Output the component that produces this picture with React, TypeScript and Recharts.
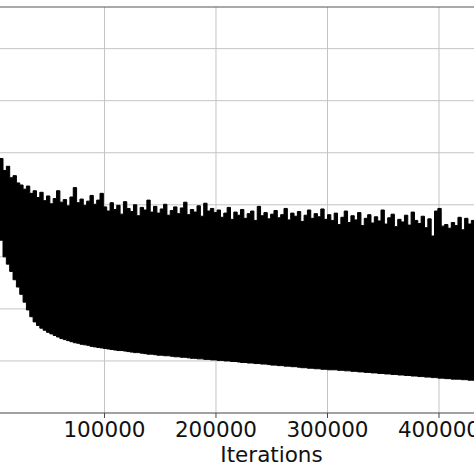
import { AreaChart, Area, XAxis, YAxis, CartesianGrid, ReferenceLine } from "recharts";

// sampling of the training curve, one sample every STEP iterations from FIRST
const FIRST = 6000;
const STEP = 3000;

// lower envelope of the noisy loss
const lower = [
  3.32, 3.0, 2.86, 2.72, 2.56, 2.42, 2.28, 2.13, 1.98, 1.85, 1.75, 1.68, 1.63, 1.59, 1.55,
  1.52, 1.49, 1.46, 1.43, 1.41, 1.39, 1.37, 1.35, 1.34, 1.32, 1.31, 1.3, 1.28, 1.27, 1.26,
  1.25, 1.24, 1.23, 1.22, 1.21, 1.2, 1.2, 1.19, 1.18, 1.17, 1.16, 1.16, 1.15, 1.14, 1.13,
  1.13, 1.12, 1.11,
  1.11, 1.1, 1.1, 1.09, 1.08, 1.08, 1.07, 1.07, 1.06, 1.05, 1.05, 1.04, 1.04, 1.03, 1.03,
  1.02,
  1.02, 1.01, 1.01, 1.0, 1.0, 0.99, 0.99, 0.98, 0.97, 0.97, 0.96, 0.96, 0.95, 0.95, 0.94,
  0.94, 0.93, 0.92, 0.92, 0.91, 0.91, 0.9, 0.9, 0.89, 0.89, 0.88, 0.87, 0.87, 0.86, 0.86,
  0.85, 0.85, 0.84, 0.84, 0.83, 0.83, 0.83,
  0.82, 0.82, 0.81, 0.81, 0.8, 0.8, 0.79, 0.79, 0.78, 0.78, 0.77, 0.77, 0.76, 0.76, 0.75,
  0.75, 0.74, 0.74, 0.73, 0.73, 0.72, 0.72, 0.71, 0.71, 0.7, 0.7, 0.69, 0.69, 0.68, 0.68,
  0.67, 0.67, 0.66, 0.66, 0.65, 0.65, 0.65, 0.64, 0.64, 0.63, 0.63, 0.63,
];

// upper envelope (spiky tips)
const upper = [
  4.89, 4.66, 4.74, 4.52, 4.56, 4.42, 4.38, 4.3, 4.36, 4.22, 4.27, 4.14, 4.24,
  4.08, 4.17, 4.02, 4.12, 4.27, 4.05, 4.1, 3.98, 4.15, 4.33, 4.04, 4.11, 3.99, 4.07, 4.18,
  4.01, 4.09,
  4.22, 3.96, 3.88, 4.04, 3.91, 3.99, 3.82, 4.06, 3.93, 3.87, 4.0, 3.79, 3.95, 3.9, 4.09,
  3.86, 3.97, 3.84, 3.92, 4.01, 3.8, 3.89, 3.96, 3.83, 3.94, 4.05, 3.81, 3.91, 3.86, 3.98,
  3.78, 4.03, 3.88, 3.93, 3.85,
  3.9, 3.76, 3.84, 3.95, 3.72, 3.86, 3.8, 3.91, 3.74, 3.83, 3.88, 3.7, 3.97, 3.79, 3.85,
  3.73, 3.82, 3.89, 3.75, 3.81, 3.93, 3.71, 3.84, 3.78, 3.87, 3.68, 3.8, 3.9, 3.74, 3.83,
  3.77, 3.92, 3.72, 3.81,
  3.7, 3.84, 3.62, 3.76, 3.88, 3.66, 3.79, 3.71, 3.85, 3.6, 3.74, 3.81, 3.65, 3.77, 3.69,
  3.9, 3.63, 3.75, 3.82, 3.58, 3.72, 3.67, 3.8, 3.61, 3.86, 3.7, 3.64, 3.78, 3.56, 3.73,
  3.4, 3.88, 3.93, 3.59, 3.62, 3.55, 3.66, 3.6, 3.76, 3.52, 3.74, 3.63, 3.7, 3.58,
];

const xTicks = [100000, 200000, 300000, 400000];
const yTicks = [1, 2, 3, 4, 5, 6, 7];
const xDomain = [6300, 431400];
const yDomain = [0, 7.8];

const data = lower.map((lo, i) => ({ it: FIRST + i * STEP, range: [lo, upper[i]] }));

const font = "'DejaVu Sans', sans-serif";

function XLabel({ viewBox }: any) {
  const { x, y, width, height } = viewBox;
  return (
    <text
      x={x + width / 2 + 34.5}
      y={y + height - 12.5}
      textAnchor="middle"
      fontFamily={font}
      fontSize={21.5}
      fill="#111"
    >
      Iterations
    </text>
  );
}

// grid lines placed at the same ticks as the axes
const vGrid = ({ offset }: any) =>
  xTicks.map((t) => offset.left + ((t - xDomain[0]) / (xDomain[1] - xDomain[0])) * offset.width);
const hGrid = ({ offset }: any) =>
  yTicks.map((t) => offset.top + (1 - (t - yDomain[0]) / (yDomain[1] - yDomain[0])) * offset.height);

export default function App() {
  return (
    <div style={{ position: "absolute", left: 0, top: 0, width: 474, height: 474, background: "#fff" }}>
      <AreaChart width={474} height={474} data={data} margin={{ top: 7, right: 0, bottom: 0, left: 0 }}>
        <CartesianGrid
          stroke="#c4c4c4"
          strokeWidth={1}
          verticalCoordinatesGenerator={vGrid}
          horizontalCoordinatesGenerator={hGrid}
        />
        <XAxis
          dataKey="it"
          type="number"
          domain={xDomain}
          allowDataOverflow
          ticks={xTicks}
          interval={0}
          height={61}
          tickSize={5}
          tickMargin={4}
          axisLine={{ stroke: "#444" }}
          tickLine={{ stroke: "#444" }}
          tick={{ fontFamily: font, fontSize: 21.5, fill: "#111" }}
          label={<XLabel />}
        />
        <YAxis
          type="number"
          domain={yDomain}
          ticks={yTicks}
          width={0}
          tick={false}
          tickLine={false}
          axisLine={false}
          allowDataOverflow
        />
        <Area
          type="stepAfter"
          dataKey="range"
          stroke="#000"
          strokeWidth={1}
          fill="#000"
          fillOpacity={1}
          isAnimationActive={false}
        />
        {/* top spine */}
        <ReferenceLine y={yDomain[1]} stroke="#555" strokeWidth={1.2} ifOverflow="visible" />
      </AreaChart>
    </div>
  );
}
